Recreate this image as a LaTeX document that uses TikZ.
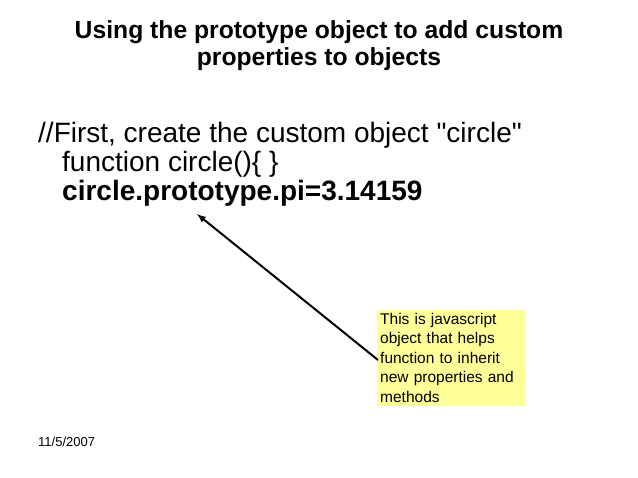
\documentclass[tikz,border=0pt]{standalone}
\usepackage{fontspec}
\setmainfont{Liberation Sans}[Ligatures=TeXOff]
\begin{document}
\begin{tikzpicture}[x=1pt,y=-1pt,
  body/.style={anchor=base west,inner sep=0pt,font=\fontsize{28}{32}\selectfont},
  note/.style={fill={rgb,255:red,255;green,255;blue,153},anchor=north west,inner sep=3pt,align=left,text width=143pt,font=\fontsize{15.5}{19.5}\selectfont}]
\useasboundingbox[fill=white] (0,0) rectangle (638,478);
\node[font=\bfseries\fontsize{24.7}{27}\selectfont,align=center] (title) at (319,46) {Using the prototype object to add custom\\properties to objects};
\node[body] (l1) at (38,143) {//First, create the custom object "circle"};
\node[body] (l2) at (62,172) {function circle()\{ \}};
\node[body,font=\bfseries\fontsize{28}{32}\selectfont] (l3) at (62,201) {circle.prototype.pi=3.14159};
\node[note] (box) at (377,310) {This is javascript object that helps function to inherit new properties and methods};
\coordinate (tip) at (197,214);
\draw[line width=2pt,-latex] (box.west |- 0,360) ++(1,0) -- (tip);
\node[anchor=base west,inner sep=0pt,font=\fontsize{13}{15}\selectfont] (date) at (38,447) {11/5/2007};
\end{tikzpicture}
\end{document}
